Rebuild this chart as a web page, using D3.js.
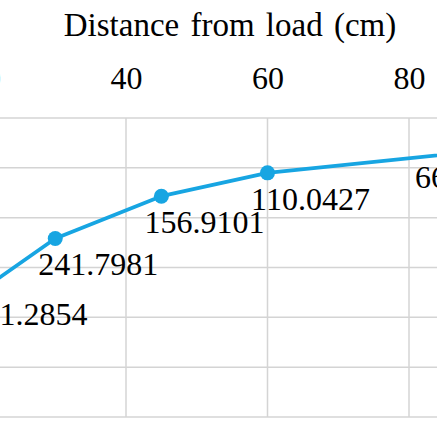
<!DOCTYPE html>
<html>
<head>
<meta charset="utf-8">
<script src="https://cdn.jsdelivr.net/npm/d3@7"></script>
<style>
  body { margin: 0; background: #fff; }
  text { font-family: "Liberation Serif", "Times New Roman", serif; fill: #000; }
</style>
</head>
<body>
<div id="vis"></div>
<script>
// chart: distance from load vs value, y axis reversed (0 at top)

const FRAME_WIDTH = 437;
const FRAME_HEIGHT = 437;

// data
const distances = [20, 30, 45, 60, 90];
const values = [341.2854, 241.7981, 156.9101, 110.0427, 66.1503];
const xTicks = [0, 20, 40, 60, 80, 100];
const xTickLabels = [20, 40, 60, 80];
const yTicks = [0, 100, 200, 300, 400, 500, 600];
const TITLE = "Distance from load (cm)";

const LINE_COLOR = "#17a5e2";
const GRID_COLOR = "#d4d4d4";

const svg = d3.select("#vis")
  .append("svg")
    .attr("width", FRAME_WIDTH)
    .attr("height", FRAME_HEIGHT);

// scales - plot area is wider than the crop, left and right run off
const X_SCALE = d3.scaleLinear()
  .domain([40, 80])
  .range([126, 409]);

const Y_SCALE = d3.scaleLinear()
  .domain([0, 600])
  .range([118, 417]);

// horizontal gridlines
svg.selectAll(".hgrid")
  .data(yTicks)
  .enter()
  .append("line")
    .attr("x1", X_SCALE(0))
    .attr("x2", X_SCALE(100))
    .attr("y1", (d) => Y_SCALE(d))
    .attr("y2", (d) => Y_SCALE(d))
    .attr("stroke", GRID_COLOR)
    .attr("stroke-width", 1.5);

// vertical gridlines
svg.selectAll(".vgrid")
  .data(xTicks)
  .enter()
  .append("line")
    .attr("x1", (d) => X_SCALE(d))
    .attr("x2", (d) => X_SCALE(d))
    .attr("y1", Y_SCALE(0))
    .attr("y2", Y_SCALE(600))
    .attr("stroke", GRID_COLOR)
    .attr("stroke-width", 1.5);

// top axis (x axis crosses at y = 0)
const xAxis = svg.append("g")
  .attr("transform", "translate(0," + Y_SCALE(0) + ")")
  .call(d3.axisTop(X_SCALE).tickValues(xTickLabels).tickSize(0).tickPadding(29));
xAxis.select(".domain").remove();
xAxis.selectAll("text")
  .attr("font-size", "32px")
  .attr("font-family", "Liberation Serif, Times New Roman, serif")
  .attr("fill", "#000");

// axis title
svg.append("text")
  .attr("x", 230)
  .attr("y", 36)
  .attr("text-anchor", "middle")
  .attr("font-size", "33px")
  .attr("word-spacing", "3px")
  .text(TITLE);

const points = distances.map((d, i) => [d, values[i]]);

// line
svg.append("path")
  .datum(points)
  .attr("fill", "none")
  .attr("stroke", LINE_COLOR)
  .attr("stroke-width", 3.8)
  .attr("stroke-linejoin", "round")
  .attr("d", d3.line()
    .x((d) => X_SCALE(d[0]))
    .y((d) => Y_SCALE(d[1])));

// markers
svg.selectAll(".pt")
  .data(points)
  .enter()
  .append("circle")
    .attr("cx", (d) => X_SCALE(d[0]))
    .attr("cy", (d) => Y_SCALE(d[1]))
    .attr("r", 7.5)
    .attr("fill", LINE_COLOR);

// data labels, below and a bit right of each point
svg.selectAll(".lbl")
  .data(points)
  .enter()
  .append("text")
    .attr("x", (d) => Math.min(X_SCALE(d[0]) + 43, 467))
    .attr("y", (d) => Y_SCALE(d[1]) + 37)
    .attr("text-anchor", "middle")
    .attr("font-size", "32px")
    .text((d) => d[1].toFixed(4));
</script>
</body>
</html>
